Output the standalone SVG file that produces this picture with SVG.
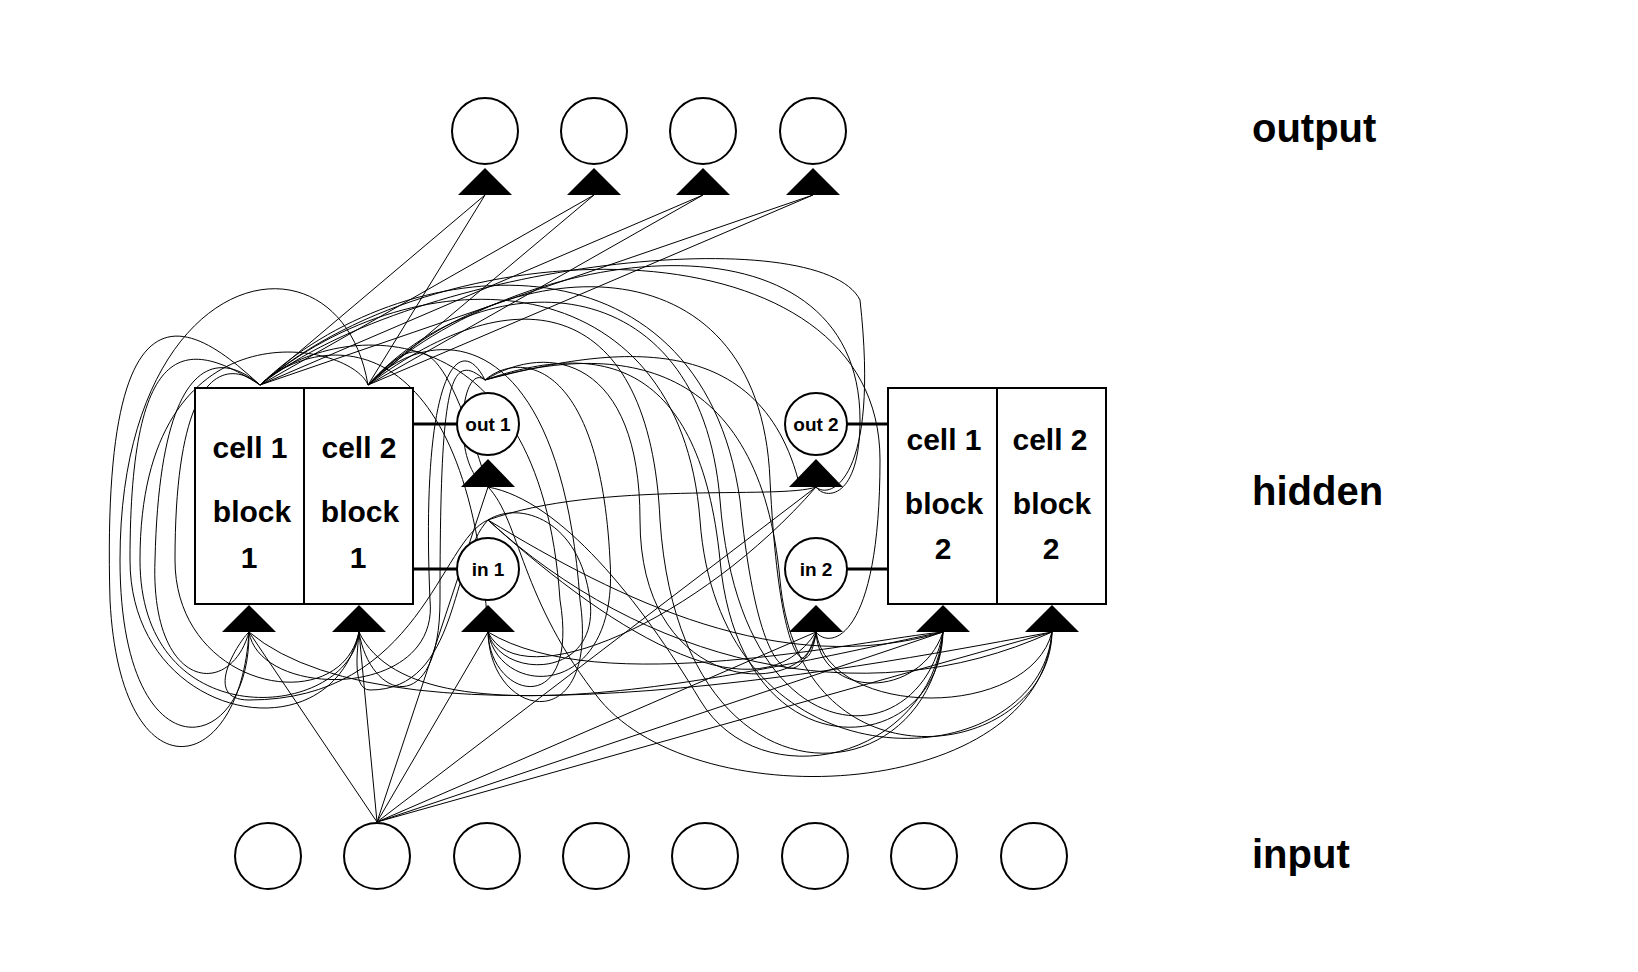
<svg xmlns="http://www.w3.org/2000/svg" width="1638" height="972" viewBox="0 0 1638 972">
<style>
.n{fill:#fff;stroke:#000;stroke-width:2}
.t{font-family:"Liberation Sans",Arial,sans-serif;font-weight:bold;fill:#000}
.c path,.c line{fill:none;stroke:#000;stroke-width:1}
.k{stroke:#000;stroke-width:3}
</style>
<rect width="1638" height="972" fill="#fff"/>
<g class="c">
<path d="M260,385L485,195M260,385L594,195M260,385L703,195M260,385L813,195M368,385L485,195M368,385L594,195M368,385L703,195M368,385L813,195"/>
<path d="M377,822L249,632M377,822L359,632M377,822L488,632M377,822L488,487M377,822L816,487M377,822L816,632M377,822L943,632M377,822L1052,632"/>
<path d="M260,385C200,330 100,250 110,600C120,800 240,780 249,632"/>
<path d="M260,385C190,340 130,330 130,560C130,720 330,760 359,632"/>
<path d="M260,385C220,350 160,350 155,560C150,690 230,700 249,632"/>
<path d="M260,385C230,360 175,360 175,560C175,690 340,720 359,632"/>
<path d="M368,385C340,220 120,260 120,560C120,780 250,760 249,632"/>
<path d="M368,385C350,340 140,300 140,560C140,740 350,720 359,632"/>
<path d="M260,385C320,330 470,320 488,632"/>
<path d="M368,385C420,330 440,330 488,487"/>
<path d="M260,385C330,320 540,300 560,600C580,720 490,700 488,632"/>
<path d="M368,385C430,320 560,320 580,600C600,740 490,720 488,632"/>
<path d="M260,385C400,250 700,220 740,500C760,700 800,690 816,632"/>
<path d="M368,385C500,250 760,230 770,480C780,680 810,680 816,632"/>
<path d="M260,385C420,260 820,220 860,300C880,480 830,500 816,487"/>
<path d="M368,385C480,260 700,260 720,500C740,760 920,760 943,632"/>
<path d="M260,385C420,250 680,260 700,520C720,800 1040,780 1052,632"/>
<path d="M368,385C520,270 650,300 660,520C680,820 930,800 943,632"/>
<path d="M485,380C460,330 420,370 430,600C440,700 260,700 249,632"/>
<path d="M485,380C450,350 440,380 440,600C440,720 370,700 359,632"/>
<path d="M485,380C520,350 600,360 610,560C620,700 500,700 488,632"/>
<path d="M485,380C550,340 640,360 640,520C640,700 810,700 816,632"/>
<path d="M485,380C600,340 700,360 720,560C740,780 940,760 943,632"/>
<path d="M485,380C620,340 760,360 780,580C800,800 1050,760 1052,632"/>
<path d="M485,380C600,350 760,320 800,487"/>
<path d="M485,380C460,360 450,470 488,487"/>
<path d="M488,520C520,500 580,520 590,600C600,680 500,680 488,632"/>
<path d="M488,520C600,480 780,500 816,487"/>
<path d="M488,520C620,600 780,680 943,632"/>
<path d="M488,520C640,660 860,720 1052,632"/>
<path d="M488,520C620,640 760,720 816,632"/>
<path d="M488,520C440,540 420,700 249,700C200,700 240,640 249,632"/>
<path d="M488,520C450,560 460,690 370,690C350,690 359,640 359,632"/>
<path d="M943,632C930,760 760,800 700,700C640,600 560,500 488,487"/>
<path d="M1052,632C1040,800 700,820 600,700C520,600 520,520 488,487"/>
<path d="M943,632C920,700 820,700 816,632"/>
<path d="M1052,632C1030,720 830,720 816,632"/>
<path d="M943,632C860,640 600,700 488,632"/>
<path d="M1052,632C900,660 400,760 249,632"/>
<path d="M943,632C800,660 420,760 359,632"/>
<path d="M816,487C700,620 520,700 488,632"/>
<path d="M368,385C520,240 860,200 860,420C860,500 825,500 816,487"/>
<path d="M260,385C450,220 880,220 880,460C880,640 830,650 816,632"/>
</g>
<g id="output">
<circle class="n" cx="485" cy="131" r="33"/><circle class="n" cx="594" cy="131" r="33"/><circle class="n" cx="703" cy="131" r="33"/><circle class="n" cx="813" cy="131" r="33"/>
<path d="M485,168L458,195H512ZM594,168L567,195H621ZM703,168L676,195H730ZM813,168L786,195H840Z"/>
</g>
<g id="block1">
<rect class="n" x="195" y="388" width="218" height="216"/><line x1="304" y1="388" x2="304" y2="604" stroke="#000" stroke-width="2"/>
<text class="t" x="250" y="458" font-size="30" text-anchor="middle">cell 1</text>
<text class="t" x="252" y="522" font-size="30" text-anchor="middle">block</text>
<text class="t" x="249" y="568" font-size="30" text-anchor="middle">1</text>
<text class="t" x="359" y="458" font-size="30" text-anchor="middle">cell 2</text>
<text class="t" x="360" y="522" font-size="30" text-anchor="middle">block</text>
<text class="t" x="358" y="568" font-size="30" text-anchor="middle">1</text>
<path d="M249,605L222,632H276ZM359,605L332,632H386Z"/>
<line class="k" x1="413" y1="424" x2="457" y2="424"/><line class="k" x1="413" y1="569" x2="457" y2="569"/>
</g>
<g id="out1"><circle class="n" cx="488" cy="424" r="31"/><text class="t" x="488" y="431" font-size="19" text-anchor="middle">out 1</text><path d="M488,459L461,487H515Z"/></g>
<g id="in1"><circle class="n" cx="488" cy="569" r="31"/><text class="t" x="488" y="576" font-size="19" text-anchor="middle">in 1</text><path d="M488,605L461,632H515Z"/></g>
<g id="out2"><circle class="n" cx="816" cy="424" r="31"/><text class="t" x="816" y="431" font-size="19" text-anchor="middle">out 2</text><path d="M816,459L789,487H843Z"/></g>
<g id="in2"><circle class="n" cx="816" cy="569" r="31"/><text class="t" x="816" y="576" font-size="19" text-anchor="middle">in 2</text><path d="M816,605L789,632H843Z"/></g>
<g id="block2">
<rect class="n" x="888" y="388" width="218" height="216"/><line x1="997" y1="388" x2="997" y2="604" stroke="#000" stroke-width="2"/>
<line class="k" x1="847" y1="424" x2="888" y2="424"/><line class="k" x1="847" y1="569" x2="888" y2="569"/>
<text class="t" x="944" y="450" font-size="30" text-anchor="middle">cell 1</text>
<text class="t" x="944" y="514" font-size="30" text-anchor="middle">block</text>
<text class="t" x="943" y="559" font-size="30" text-anchor="middle">2</text>
<text class="t" x="1050" y="450" font-size="30" text-anchor="middle">cell 2</text>
<text class="t" x="1052" y="514" font-size="30" text-anchor="middle">block</text>
<text class="t" x="1051" y="559" font-size="30" text-anchor="middle">2</text>
<path d="M943,605L916,632H970ZM1052,605L1025,632H1079Z"/>
</g>
<g id="input">
<circle class="n" cx="268" cy="856" r="33"/><circle class="n" cx="377" cy="856" r="33"/><circle class="n" cx="487" cy="856" r="33"/><circle class="n" cx="596" cy="856" r="33"/><circle class="n" cx="705" cy="856" r="33"/><circle class="n" cx="815" cy="856" r="33"/><circle class="n" cx="924" cy="856" r="33"/><circle class="n" cx="1034" cy="856" r="33"/>
</g>
<g id="labels">
<text class="t" x="1252" y="142" font-size="40">output</text>
<text class="t" x="1252" y="505" font-size="40">hidden</text>
<text class="t" x="1252" y="868" font-size="40">input</text>
</g>
</svg>
